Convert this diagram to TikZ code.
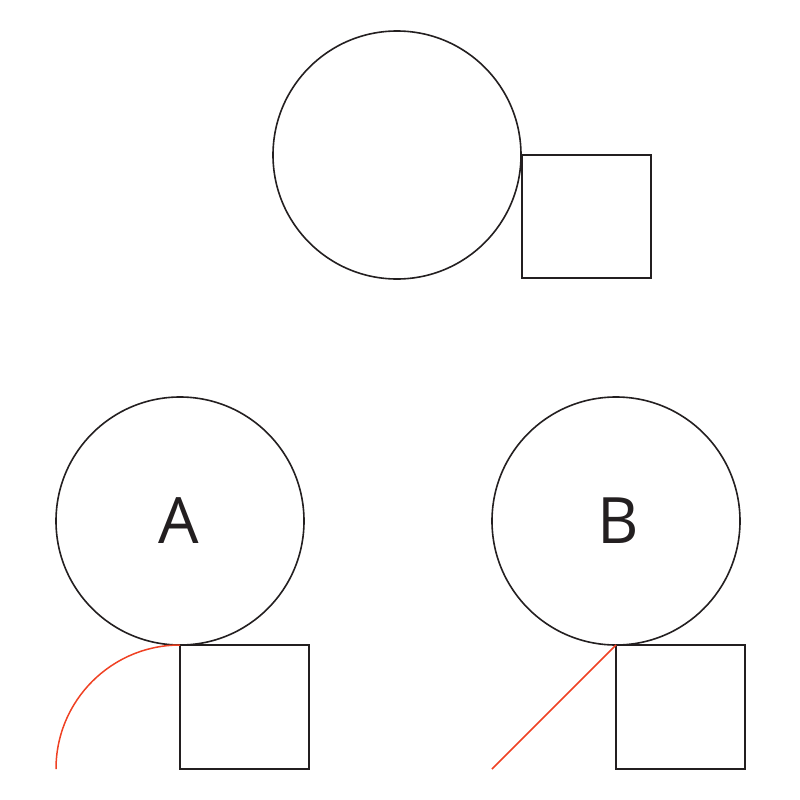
\documentclass[tikz,border=0pt]{standalone}
\usepackage{fontspec}
\setmainfont{Open Sans}
\definecolor{ink}{HTML}{231F20}
\definecolor{redl}{HTML}{EF4123}
\begin{document}
\begin{tikzpicture}[x=1pt,y=-1pt,
  shp/.style={draw=ink,line width=1.6pt},
  rl/.style={draw=redl,line width=1.5pt},
  lbl/.style={font=\fontsize{64}{64}\selectfont,text=ink,inner sep=0pt}]
\useasboundingbox (0,0) rectangle (800,800);
% top
\draw[shp] (397,155) circle (124);
\draw[shp] (522,155) rectangle (651,278);
% bottom left
\draw[shp] (180,521) circle (124);
\node[lbl] (A) at (179,521) {A};
\draw[shp] (180,645) rectangle (309,769);
\coordinate (a1) at (180,645);
\coordinate (a2) at (56,769);
\draw[rl] (a1) arc[start angle=270,end angle=180,radius=124];
% bottom right
\draw[shp] (616,521) circle (124);
\node[lbl] (B) at (618,521) {B};
\draw[shp] (616,645) rectangle (745,769);
\coordinate (b1) at (616,645);
\coordinate (b2) at (492,769);
\draw[rl] (b1) -- (b2);
\end{tikzpicture}
\end{document}
